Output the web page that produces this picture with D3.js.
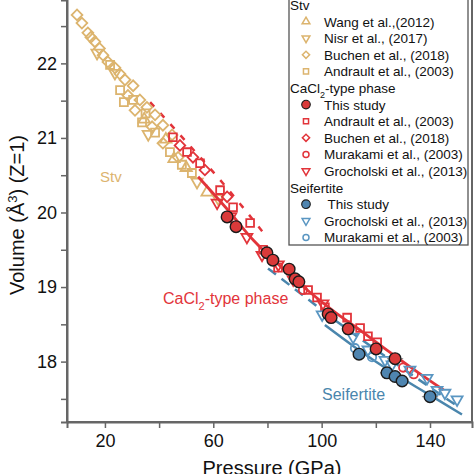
<!DOCTYPE html>
<html>
<head>
<meta charset="utf-8">
<script src="https://cdn.jsdelivr.net/npm/d3@7"></script>
<style>
  body { margin: 0; background: #fff; }
  text { font-family: 'Liberation Sans', Arial, sans-serif; }
</style>
</head>
<body>
<script>
// ---- data (pressure GPa, volume A^3) ----
let stvWang = [[34.5, 21.25], [42.5, 20.98], [50.0, 20.60], [57.7, 20.27], [45.5, 20.72]]
let stvNisr = [[17.1, 22.14], [23.7, 21.87], [54.0, 20.41], [61.8, 20.19], [36.0, 21.05]]
let stvBuchen = [
  [9.7, 22.65], [11.5, 22.54], [13.7, 22.41], [16.3, 22.29], [19.3, 22.11],
  [21.1, 22.02], [23.7, 21.94], [27.4, 21.78], [30.4, 21.70], [32.9, 21.51],
  [35.5, 21.41], [38.5, 21.31], [41.4, 21.17], [44.8, 21.04],
  [28.5, 21.57], [31.1, 21.37], [37.4, 21.15], [41.4, 20.93], [47.0, 20.74],
  [25.5, 21.86], [18.0, 22.20], [14.8, 22.35]
]
let stvAndrault = [
  [21.9, 21.98], [25.6, 21.64], [30.4, 21.51], [33.7, 21.21], [38.5, 21.07],
  [44.0, 20.81], [48.4, 20.64], [52.1, 20.53], [27.0, 21.48], [35.0, 21.33]
]

let cacl2This = [
  [65.1, 19.94], [68.4, 19.81], [79.8, 19.46], [82.0, 19.36], [88.0, 19.24],
  [90.2, 19.11], [91.6, 19.07], [102.4, 18.64], [103.5, 18.59], [109.8, 18.44],
  [120.1, 18.17], [127.1, 18.04]
]
let cacl2ThisErr = [0, 0, 0, 1.5, 0, 2.5, 0, 0, 0, 0, 0, 3]
let cacl2Andrault = [
  [45.1, 21.01], [50.3, 20.81], [55.1, 20.66], [62.5, 20.30], [67.3, 20.07],
  [73.6, 19.86], [78.4, 19.50], [83.9, 19.26], [95.0, 18.96], [98.3, 18.86],
  [101.2, 18.73], [109.4, 18.59], [114.2, 18.45], [117.1, 18.34], [120.5, 18.26]
]
let cacl2Buchen = [[47.7, 20.90], [52.5, 20.74], [56.9, 20.57], [65.1, 20.21]]
let cacl2Murakami = [[93.1, 18.96], [130.1, 17.92], [134.0, 17.83]]
let cacl2Grocholski = [
  [61.4, 20.13], [66.5, 19.95], [72.4, 19.67], [78.0, 19.43], [84.0, 19.30],
  [89.5, 19.10], [100.5, 18.78]
]

let seifThis = [[113.8, 18.10], [124.1, 17.85], [127.1, 17.80], [129.7, 17.74], [140.0, 17.53]]
let seifThisErr = [0, 2.5, 0, 0, 3]
let seifGrocholski = [
  [100.2, 18.63], [111.6, 18.33], [117.1, 18.16], [123.4, 18.02], [126.0, 17.96],
  [132.6, 17.89], [138.9, 17.78], [142.6, 17.62], [145.5, 17.58], [150.0, 17.49]
]
let seifMurakami = [[112.3, 18.18], [118.6, 18.06]]

// fitted curves
let redSolid = [[54.4, 20.48], [65, 20.05], [75, 19.62], [85, 19.27], [95, 18.95],
  [105, 18.66], [115, 18.40], [125, 18.13], [135, 17.87], [145, 17.62]]
let redDashed = [[36.7, 21.48], [50, 20.95], [65, 20.33], [79.1, 19.70]]
let blueDashed = [[80.2, 19.25], [92, 18.92], [107, 18.50], [120, 18.16], [135, 17.78], [151, 17.38]]
let blueSolid = [[101.2, 18.49], [112, 18.20], [125, 17.88], [140, 17.55], [151.8, 17.29]]

let xTicks = [20, 60, 100, 140]
let yTicks = [18, 19, 20, 21, 22]

let tan = '#dcb46e'
let red = '#e2343a'
let blue = '#5a96c2'

let width = 474
let height = 474

let svg = d3.select('body')
  .append('svg')
  .attr('width', width)
  .attr('height', height)

let xScale = d3.scaleLinear().domain([6, 155.5]).range([67, 472])
let yScale = d3.scaleLinear().domain([17.19, 22.85]).range([422, 0])

// frame
svg.append('rect')
  .attr('x', 67).attr('y', -10)
  .attr('width', 405).attr('height', 432)
  .attr('fill', 'none')
  .attr('stroke', '#666')
  .attr('stroke-width', 2)

// axes
let xAxis = d3.axisBottom(xScale).tickValues(d3.range(20, 141, 20))
  .tickSize(6).tickFormat(d => xTicks.includes(d) ? d : '')
let yAxis = d3.axisLeft(yScale).tickValues(d3.range(17.5, 22.6, 0.5))
  .tickSize(6).tickFormat(d => yTicks.includes(d) ? d : '')

let gx = svg.append('g').attr('transform', 'translate(0,422)').call(xAxis)
let gy = svg.append('g').attr('transform', 'translate(67,0)').call(yAxis)
;[gx, gy].forEach(g => {
  g.select('.domain').attr('stroke', '#666').attr('stroke-width', 2)
  g.selectAll('.tick line').attr('stroke', '#666').attr('stroke-width', 1.5)
  g.selectAll('.tick text').attr('font-size', 18).attr('fill', '#111')
    .attr('font-family', "'Liberation Sans', Arial, sans-serif")
})
gx.selectAll('.tick text').attr('dy', '0.9em')
gy.selectAll('.tick text').attr('x', -10)

svg.append('text')
  .attr('x', 272).attr('y', 475)
  .attr('text-anchor', 'middle')
  .attr('font-size', 20)
  .attr('fill', '#111')
  .text('Pressure (GPa)')

let ylab = svg.append('text')
  .attr('transform', 'translate(24,215) rotate(-90)')
  .attr('text-anchor', 'middle')
  .attr('font-size', 20)
  .attr('fill', '#111')
ylab.append('tspan').text('Volume (Å')
ylab.append('tspan').text('3').attr('font-size', 13).attr('baseline-shift', 'super')
ylab.append('tspan').text(') (Z=1)')

// curves
let line = d3.line()
  .x(d => xScale(d[0]))
  .y(d => yScale(d[1]))
  .curve(d3.curveMonotoneX)

svg.append('path').datum(redDashed).attr('d', line)
  .attr('fill', 'none').attr('stroke', red).attr('stroke-width', 2.5)
  .attr('stroke-dasharray', '6,9')
svg.append('path').datum(blueDashed).attr('d', line)
  .attr('fill', 'none').attr('stroke', '#4a86ad').attr('stroke-width', 2.5)
  .attr('stroke-dasharray', '10,7')
svg.append('path').datum(blueSolid).attr('d', line)
  .attr('fill', 'none').attr('stroke', '#4a86ad').attr('stroke-width', 2.5)

// markers
let shapes = {
  up: d3.symbol().type(d3.symbolTriangle),
  down: d3.symbol().type(d3.symbolTriangle),
  diamond: d3.symbol().type(d3.symbolSquare),
  square: d3.symbol().type(d3.symbolSquare),
  circle: d3.symbol().type(d3.symbolCircle)
}
let rot = { up: 0, down: 180, diamond: 45, square: 0, circle: 0 }

function drawSet(data, shape, color, size) {
  svg.append('g')
    .selectAll('path')
    .data(data)
    .enter()
    .append('path')
    .attr('d', shapes[shape].size(size)())
    .attr('transform', d => `translate(${xScale(d[0])},${yScale(d[1])}) rotate(${rot[shape]})`)
    .attr('fill', 'none')
    .attr('stroke', color)
    .attr('stroke-width', 1.8)
}

drawSet(stvAndrault, 'square', tan, 64)
drawSet(stvBuchen, 'diamond', tan, 58)
drawSet(stvWang, 'up', tan, 55)
drawSet(stvNisr, 'down', tan, 55)

drawSet(cacl2Andrault, 'square', red, 60)
drawSet(cacl2Buchen, 'diamond', red, 56)
drawSet(cacl2Murakami, 'circle', red, 55)
drawSet(cacl2Grocholski, 'down', red, 52)

svg.append('path').datum(redSolid).attr('d', line)
  .attr('fill', 'none').attr('stroke', red).attr('stroke-width', 2.8)

drawSet(seifGrocholski, 'down', blue, 52)
drawSet(seifMurakami, 'circle', blue, 55)

function drawThis(data, errs, fill) {
  svg.append('g')
    .selectAll('line')
    .data(data)
    .enter()
    .append('line')
    .attr('x1', (d, i) => xScale(d[0] - errs[i]))
    .attr('x2', (d, i) => xScale(d[0] + errs[i]))
    .attr('y1', d => yScale(d[1]))
    .attr('y2', d => yScale(d[1]))
    .attr('stroke', '#999')
    .attr('stroke-width', 1.2)
  svg.append('g')
    .selectAll('circle')
    .data(data)
    .enter()
    .append('circle')
    .attr('cx', d => xScale(d[0]))
    .attr('cy', d => yScale(d[1]))
    .attr('r', 5.8)
    .attr('fill', fill)
    .attr('stroke', '#1a1a1a')
    .attr('stroke-width', 1.4)
}
drawThis(cacl2This, cacl2ThisErr, '#d93a3a')
drawThis(seifThis, seifThisErr, '#4f85b0')

// annotations
svg.append('text').attr('x', 100).attr('y', 182)
  .attr('font-size', 15).attr('fill', tan).text('Stv')
let cl = svg.append('text').attr('x', 163).attr('y', 304)
  .attr('font-size', 16).attr('fill', red)
cl.append('tspan').text('CaCl')
cl.append('tspan').text('2').attr('font-size', 11).attr('baseline-shift', 'sub')
cl.append('tspan').text('-type phase')
svg.append('text').attr('x', 322).attr('y', 400)
  .attr('font-size', 16).attr('fill', '#4a86ad').text('Seifertite')

// legend
let legendRows = [
  { header: 'Stv' },
  { label: 'Wang et al.,(2012)', shape: 'up', color: tan },
  { label: 'Nisr et al., (2017)', shape: 'down', color: tan },
  { label: 'Buchen et al., (2018)', shape: 'diamond', color: tan },
  { label: 'Andrault et al., (2003)', shape: 'square', color: tan },
  { header: 'CaCl', sub: '2', rest: '-type phase' },
  { label: 'This study', filled: '#d93a3a' },
  { label: 'Andrault et al., (2003)', shape: 'square', color: red },
  { label: 'Buchen et al., (2018)', shape: 'diamond', color: red },
  { label: 'Murakami et al., (2003)', shape: 'circle', color: red },
  { label: 'Grocholski et al., (2013)', shape: 'down', color: red },
  { header: 'Seifertite' },
  { label: ' This study', filled: '#4f85b0' },
  { label: 'Grocholski et al., (2013)', shape: 'down', color: blue },
  { label: 'Murakami et al., (2003)', shape: 'circle', color: blue }
]

let legend = svg.append('g')
legend.append('rect')
  .attr('x', 289).attr('y', -10)
  .attr('width', 179).attr('height', 255)
  .attr('fill', 'white')
  .attr('stroke', '#555')
  .attr('stroke-width', 1.3)

legend.selectAll('.legend-entry')
  .data(legendRows)
  .enter()
  .append('g')
  .attr('class', 'legend-entry')
  .attr('transform', (d, i) => `translate(0,${5 + i * 16.6})`)
  .each(function (d) {
    let g = d3.select(this)
    if (d.header) {
      let t = g.append('text').attr('x', 290).attr('y', 5)
        .attr('font-size', 13.5).attr('fill', '#111')
      t.append('tspan').text(d.header)
      if (d.sub) {
        t.append('tspan').text(d.sub).attr('font-size', 9).attr('baseline-shift', 'sub')
        t.append('tspan').text(d.rest)
      }
      return
    }
    if (d.filled) {
      g.append('circle').attr('cx', 306).attr('cy', 0).attr('r', 4.3)
        .attr('fill', d.filled).attr('stroke', '#1a1a1a').attr('stroke-width', 1.1)
    } else {
      g.append('path')
        .attr('d', shapes[d.shape].size(d.shape === 'circle' ? 28 : 26)())
        .attr('transform', `translate(306,0) rotate(${rot[d.shape]})`)
        .attr('fill', 'none')
        .attr('stroke', d.color)
        .attr('stroke-width', 1.5)
    }
    g.append('text').attr('x', 324).attr('y', 5)
      .attr('font-size', 13.5).attr('fill', '#111')
      .attr('xml:space', 'preserve')
      .text(d.label)
  })
</script>
</body>
</html>
